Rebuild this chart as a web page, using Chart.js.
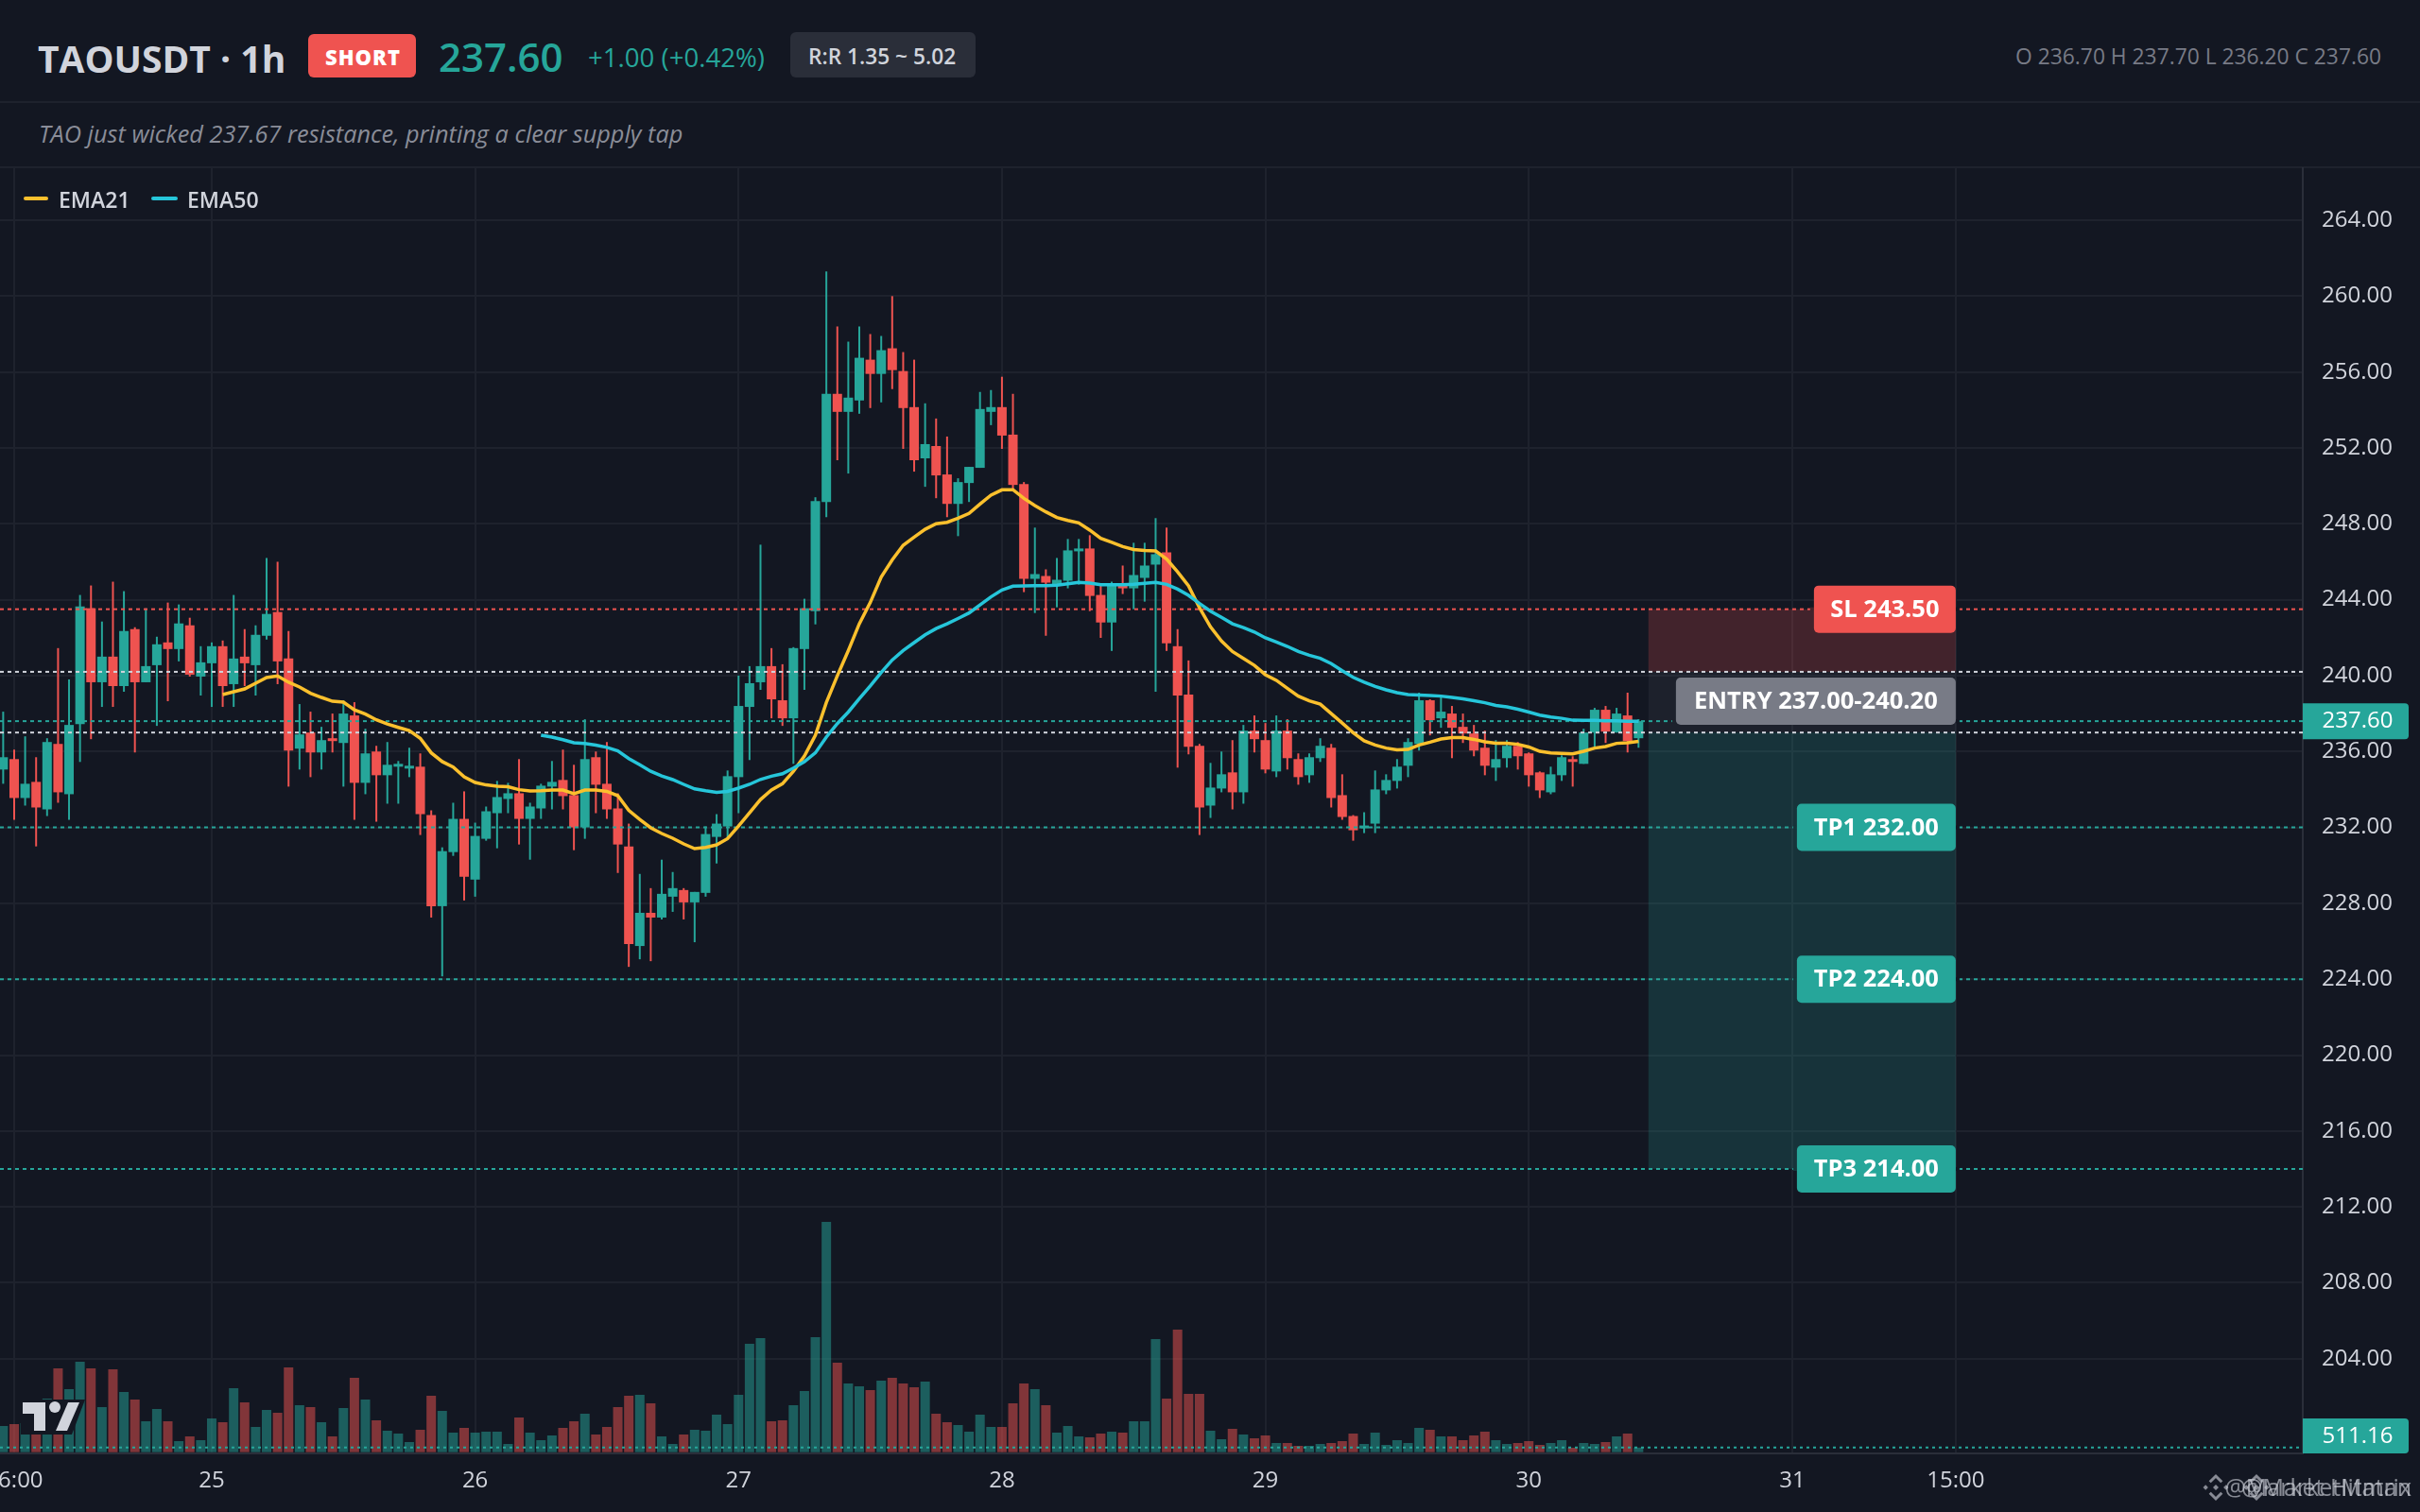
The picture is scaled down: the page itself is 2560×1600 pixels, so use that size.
<!DOCTYPE html>
<html>
<head>
<meta charset="utf-8">
<title>TAOUSDT 1h</title>
<script src="https://cdn.jsdelivr.net/npm/chart.js@4"></script>
<style>
html, body { margin: 0; padding: 0; background: #131722; width: 2560px; height: 1600px; overflow: hidden; }
body { position: relative; font-family: "Open Sans", sans-serif; color: #d1d4dc; }
.t { position: absolute; white-space: nowrap; line-height: 1; transform: translateY(-50%); }
.bar { position: absolute; left: 0; width: 2560px; height: 2px; background: #1e222d; }
.pill { position: absolute; border-radius: 6px; }
.sw { position: absolute; height: 4px; border-radius: 2px; }
canvas { position: absolute; left: 0; top: 177px; }
</style>
</head>
<body>
<div class="t" style="left:40px;top:61px;font-size:39px;font-weight:700">TAOUSDT · 1h</div>
<div class="pill" style="left:326px;top:36px;width:114px;height:46px;background:#ef5350"></div>
<div class="t" style="left:344px;top:60px;font-size:22px;font-weight:800;color:#fff;letter-spacing:1px">SHORT</div>
<div class="t" style="left:464px;top:60px;font-size:42px;font-weight:600;color:#26a69a">237.60</div>
<div class="t" style="left:622px;top:61px;font-size:27.6px;font-weight:500;color:#26a69a">+1.00 (+0.42%)</div>
<div class="pill" style="left:836px;top:34px;width:196px;height:48px;background:#2a2e39"></div>
<div class="t" style="left:855px;top:60px;font-size:22.7px;font-weight:600">R:R 1.35 ~ 5.02</div>
<div class="t" style="right:41px;top:60px;font-size:22.8px;color:#787b86">O 236.70 H 237.70 L 236.20 C 237.60</div>
<div class="bar" style="top:107px"></div>
<div class="t" style="left:41px;top:142px;font-size:25.3px;font-style:italic;color:#8a8d98">TAO just wicked 237.67 resistance, printing a clear supply tap</div>
<div class="bar" style="top:176px"></div>
<canvas id="chart" width="2560" height="1423"></canvas>
<div class="sw" style="left:25px;top:208px;width:26px;background:#fbc02d"></div>
<div class="t" style="left:62px;top:211px;font-size:23px;font-weight:600">EMA21</div>
<div class="sw" style="left:160px;top:208px;width:28px;background:#26c6da"></div>
<div class="t" style="left:198px;top:211px;font-size:23px;font-weight:600">EMA50</div>

<script>
// candles, one per hour. hour 0 = midnight of the 25th
const firstHour = -19;
const opens = [
  235.05,235.6,233.55,234.4,232.95,236.4,233.75,237.45,243.55,239.65,
  241.0,239.45,242.45,239.65,240.55,241.75,241.4,242.65,239.95,240.65,
  241.55,239.55,241.0,240.55,242.1,243.35,240.9,236.15,237.0,235.95,
  236.7,236.45,237.9,234.35,236.0,234.75,235.2,235.1,235.2,232.65,
  227.85,230.7,232.45,229.25,231.4,232.75,233.5,233.8,232.45,233.0,
  234.15,234.5,233.7,232.0,235.7,234.3,233.0,231.0,225.75,227.5,
  227.25,228.35,228.7,228.05,228.55,231.5,232.05,234.65,238.35,239.65,
  240.5,238.7,237.75,241.4,243.4,249.15,254.85,253.9,254.5,256.65,
  255.9,257.25,256.05,254.15,251.45,252.1,250.6,249.05,250.15,250.95,
  253.9,254.15,252.7,250.1,245.1,245.25,244.75,245.0,246.55,246.7,
  244.25,242.8,244.75,244.6,245.15,245.85,246.5,241.55,239.0,236.3,
  233.15,234.05,234.9,233.85,237.1,236.6,234.95,237.1,235.6,234.75,
  235.65,236.2,233.7,232.6,231.95,232.2,233.95,234.45,235.25,236.4,
  238.7,237.75,238.0,237.3,236.95,236.2,235.15,235.65,236.3,235.9,
  234.9,233.85,234.75,235.6,235.35,237.0,238.2,237.0,237.9,236.7
];
const highs = [
  238.1,236.1,236.8,235.7,236.7,241.45,239.8,244.25,244.75,242.85,
  244.95,244.45,242.55,243.55,242.05,243.85,243.75,243.05,241.55,241.75,
  241.85,244.25,242.45,242.65,246.2,246.0,242.35,238.5,238.1,237.3,
  238.0,238.7,238.6,237.2,236.3,236.5,235.5,236.2,235.9,232.9,
  230.95,233.3,233.9,232.25,233.1,234.45,234.35,235.6,233.3,234.3,
  235.5,236.1,235.3,237.7,236.0,236.5,233.8,232.2,229.55,228.8,
  230.3,229.65,228.8,228.6,232.05,232.7,235.0,240.0,240.5,246.9,
  241.45,240.6,241.5,244.05,249.4,261.3,258.4,257.6,258.4,258.0,
  257.9,260.0,257.05,256.65,254.35,253.55,252.6,250.4,251.0,254.95,
  255.05,255.75,254.85,250.2,247.8,245.6,246.2,247.2,247.2,247.4,
  244.75,244.95,245.8,247.0,247.0,248.3,247.8,242.45,240.8,236.4,
  235.4,236.0,236.6,237.4,237.9,237.5,237.9,237.7,235.9,235.9,
  236.7,236.4,234.8,232.65,232.8,235.0,234.8,235.6,236.7,239.1,
  238.75,238.95,238.4,238.0,237.4,237.1,236.6,236.6,236.5,235.95,
  234.95,235.2,235.8,235.75,237.2,238.3,238.4,238.3,239.1,237.7
];
const lows = [
  234.3,232.4,233.15,231.0,232.6,233.3,232.4,235.45,236.65,238.35,
  238.35,239.15,235.95,239.65,237.35,238.65,240.75,239.95,238.95,238.35,
  238.35,238.35,239.45,238.95,241.9,239.55,234.15,235.05,234.65,235.05,
  235.95,234.15,232.4,233.75,232.3,233.25,233.25,234.65,231.6,227.25,
  224.15,230.5,228.15,228.35,231.3,230.9,232.75,231.1,230.3,232.45,
  232.95,232.95,230.8,231.4,232.75,232.45,229.6,224.65,225.05,224.95,
  227.15,227.55,227.15,225.95,228.35,230.1,231.45,232.75,235.55,239.25,
  237.75,237.35,235.35,239.25,242.7,248.35,251.35,250.65,253.8,254.1,
  254.4,255.1,251.95,250.75,249.95,249.35,248.35,247.35,249.15,250.95,
  253.2,251.95,249.8,244.4,243.3,242.1,243.6,244.6,244.8,243.4,
  241.99,241.3,244.3,243.5,243.9,239.15,241.3,235.15,235.85,231.6,
  232.5,233.85,232.95,233.25,235.95,234.85,234.65,235.05,234.25,234.35,
  235.45,233.05,232.4,231.3,231.7,231.7,233.75,234.05,234.65,236.05,
  236.85,237.25,235.65,236.45,235.75,234.75,234.45,235.15,235.05,234.15,
  233.55,233.75,234.45,234.15,235.35,236.25,236.45,237.0,235.95,236.2
];
const closes = [
  235.7,233.55,234.3,233.05,236.5,233.85,237.4,243.65,239.65,241.0,
  239.45,242.35,239.65,240.5,241.65,241.4,242.75,240.05,240.7,241.55,
  239.45,240.9,240.65,242.15,243.25,240.75,236.05,236.9,235.95,236.6,
  236.55,238.0,234.35,235.9,234.75,235.3,235.35,235.25,232.7,227.85,
  230.75,232.45,229.4,231.55,232.85,233.6,233.8,232.45,233.1,234.2,
  234.4,233.65,232.0,235.6,234.25,232.95,231.1,225.85,227.5,227.25,
  228.5,228.8,228.05,228.6,231.65,232.2,234.7,238.4,239.6,240.5,
  238.75,237.75,241.45,243.55,249.2,254.85,253.9,254.65,256.75,255.9,
  257.15,256.1,254.1,251.35,252.2,250.55,249.05,250.2,251.0,254.05,
  254.15,252.65,250.05,245.1,245.35,244.9,245.05,246.6,246.7,244.2,
  242.8,244.75,244.6,245.3,245.8,246.4,241.7,238.95,236.25,233.05,
  234.1,234.8,233.85,237.1,236.65,235.05,237.1,235.65,234.65,235.7,
  236.3,233.55,232.55,231.85,232.1,234.0,234.5,235.2,236.5,238.7,
  237.65,238.1,237.25,236.95,236.05,235.25,235.6,236.3,235.75,234.75,
  233.95,234.8,235.7,235.45,237.0,238.2,237.05,238.0,236.55,237.6
];
const volumes = [
  2905,3115,3220,1960,5950,9310,7000,10045,9310,5005,
  9205,6685,5845,3430,4795,3430,1225,1750,1330,3745,
  3325,7105,5530,2800,4690,4375,9415,5215,5005,3325,
  1750,4900,8260,5845,3535,2380,2065,1120,2485,6265,
  4585,2170,2695,2170,2275,2275,910,3850,2170,1330,
  1855,2695,3430,4270,1960,2800,5005,6265,6370,5425,
  1750,910,1960,2485,2380,4165,3115,6370,12040,12670,
  3430,3535,5215,6790,12775,25585,9940,7630,7315,6895,
  7945,8260,7630,7210,7840,4270,3325,3010,2275,4165,
  2800,2800,5425,7630,7000,5215,2170,2905,1750,1645,
  2065,2275,2170,3430,3430,12565,5950,13615,6475,6475,
  2380,1435,2590,1960,1540,1855,1015,1015,700,700,
  910,1015,1225,2065,910,2170,805,1330,1015,2695,
  2485,1750,1750,1330,1855,2275,1330,910,1015,1225,
  805,1015,1330,490,1015,910,1120,1750,2065,511.16
];
const ema21Start = 1;
const ema21 = [
  239.0,239.15,239.3,239.6,239.9,239.98,239.65,239.4,239.07,238.85,
  238.65,238.6,238.2,237.97,237.67,237.45,237.27,237.1,236.7,235.93,
  235.47,235.18,234.67,234.37,234.24,234.17,234.14,233.99,233.92,233.93,
  233.97,233.97,233.78,233.97,233.97,233.9,233.67,232.9,232.42,231.98,
  231.68,231.43,231.13,230.88,230.95,231.08,231.41,232.07,232.77,233.47,
  233.97,234.3,234.96,235.76,236.86,238.58,239.99,241.32,242.73,243.85,
  245.2,246.1,246.87,247.3,247.71,248.0,248.08,248.3,248.55,249.04,
  249.51,249.79,249.8,249.34,248.96,248.63,248.33,248.18,248.05,247.67,
  247.23,247.02,246.8,246.65,246.59,246.57,246.14,245.47,244.73,243.57,
  242.57,241.82,241.27,240.91,240.54,240.05,239.75,239.33,238.92,238.67,
  238.5,238.0,237.5,236.99,236.56,236.34,236.18,236.09,236.11,236.34,
  236.49,236.66,236.73,236.73,236.64,236.51,236.44,236.44,236.38,236.24,
  236.01,235.93,235.9,235.88,236.01,236.18,236.26,236.43,236.46,236.54
];
const ema50Start = 30;
const ema50 = [
  236.86,236.76,236.62,236.46,236.42,236.34,236.22,236.03,235.63,235.3,
  234.96,234.71,234.52,234.27,234.03,233.93,233.85,233.9,234.07,234.27,
  234.53,234.7,234.83,235.13,235.46,235.93,236.76,237.47,238.08,238.78,
  239.45,240.16,240.82,241.32,241.74,242.15,242.48,242.73,243.01,243.3,
  243.73,244.15,244.51,244.71,244.73,244.74,244.74,244.76,244.84,244.91,
  244.88,244.79,244.79,244.79,244.81,244.86,244.91,244.81,244.56,244.23,
  243.8,243.4,243.07,242.73,242.53,242.3,241.99,241.77,241.54,241.27,
  241.07,240.91,240.63,240.26,239.91,239.65,239.43,239.25,239.1,239.0,
  238.98,238.95,238.92,238.85,238.78,238.68,238.57,238.43,238.35,238.23,
  238.08,237.92,237.82,237.75,237.65,237.64,237.64,237.62,237.62,237.6,237.6
];
const priceTicks = [204,208,212,216,220,224,228,232,236,240,244,248,252,256,260,264];
const timeTicks = [-18,0,24,48,72,96,120,144,158.9];
const timeTickLabels = ['06:00','25','26','27','28','29','30','31','15:00'];

const levelPrices = [243.5, 240.2, 237.6, 237, 232, 224, 214];
const levelColors = ['#ef5350','#d1d4dc','#26a69a','#d1d4dc','#26a69a','#26a69a','#26a69a'];
const lastPrice = 237.6, lastVolume = 511.16;

const zoneFrom = 130.9, zoneTo = 158.9;
const zoneTops = [243.5, 240.2, 237];
const zoneBottoms = [240.2, 237, 214];
const zoneColors = ['rgba(239,83,80,0.22)','rgba(120,123,134,0.1)','rgba(38,166,154,0.2)'];

const badgeTexts = ['SL 243.50','ENTRY 237.00-240.20','TP1 232.00','TP2 224.00','TP3 214.00'];
const badgePrices = [243.5, 238.65, 232, 224, 214];
const badgeLinePrices = [243.5, 237.6, 232, 224, 214]; // the level line each label interrupts
const badgeWidths = [150, 296, 168, 168, 168];
const badgeColors = ['#ef5350','#787b86','#26a69a','#26a69a','#26a69a'];

const GREEN = '#26a69a', RED = '#ef5350';
const hours = opens.map((o, i) => firstHour + i);
const isUp = closes.map((c, i) => c >= opens[i]);
const FONT = '"Open Sans", sans-serif';

const levelSets = levelPrices.map((p, i) => ({
  type: 'line',
  data: [{x: -19.29, y: p}, {x: 190.52, y: p}],
  borderColor: levelColors[i], borderWidth: 2, borderDash: [4, 4],
  pointRadius: 0, order: 3
}));

function roundRect(ctx, x, y, w, h, r) {
  ctx.beginPath();
  ctx.roundRect(x, y, w, h, r);
}

function binanceMark(ctx, cx, cy, s) {
  const dia = (x, y, r) => {
    ctx.beginPath();
    ctx.moveTo(x, y - r); ctx.lineTo(x + r, y); ctx.lineTo(x, y + r); ctx.lineTo(x - r, y);
    ctx.closePath(); ctx.fill();
  };
  dia(cx, cy, s * 0.2);
  dia(cx - s * 0.72, cy, s * 0.18);
  dia(cx + s * 0.72, cy, s * 0.18);
  ctx.lineWidth = s * 0.2;
  ctx.beginPath();
  ctx.moveTo(cx - s * 0.42, cy - s * 0.38); ctx.lineTo(cx, cy - s * 0.8); ctx.lineTo(cx + s * 0.42, cy - s * 0.38);
  ctx.moveTo(cx - s * 0.42, cy + s * 0.38); ctx.lineTo(cx, cy + s * 0.8); ctx.lineTo(cx + s * 0.42, cy + s * 0.38);
  ctx.stroke();
}

const overlays = {
  id: 'overlays',
  beforeDatasetsDraw(chart) {
    const {ctx, scales: {x, y}} = chart;
    ctx.save();
    zoneColors.forEach((c, i) => {
      ctx.fillStyle = c;
      const top = y.getPixelForValue(zoneTops[i]);
      ctx.fillRect(x.getPixelForValue(zoneFrom), top,
        x.getPixelForValue(zoneTo) - x.getPixelForValue(zoneFrom),
        y.getPixelForValue(zoneBottoms[i]) - top);
    });
    ctx.restore();
  },
  afterDraw(chart) {
    const {ctx, chartArea: area, scales: {x, y}} = chart;
    const right = x.getPixelForValue(zoneTo);
    ctx.save();

    // trade labels
    ctx.textAlign = 'center';
    ctx.textBaseline = 'middle';
    ctx.font = '700 25.5px ' + FONT;
    badgeTexts.forEach((t, i) => {
      const cy = y.getPixelForValue(badgePrices[i]);
      const lineY = y.getPixelForValue(badgeLinePrices[i]);
      const left = right - badgeWidths[i];
      // small break in the dashed line either side of the label
      ctx.fillStyle = '#131722';
      ctx.fillRect(right, lineY - 2, 4, 4);
      ctx.fillStyle = i === 0 ? 'rgb(64,35,42)' : i === 1 ? 'rgb(30,34,44)' : 'rgb(23,52,58)';
      ctx.fillRect(left - 4, lineY - 2, 4, 4);
      roundRect(ctx, left, cy - 25, badgeWidths[i], 50, 5);
      ctx.fillStyle = badgeColors[i]; ctx.fill();
      ctx.fillStyle = '#fff';
      ctx.fillText(t, left + badgeWidths[i] / 2, cy + 1);
    });

    // axis tags
    ctx.font = '500 24px ' + FONT;
    const tagY = y.getPixelForValue(lastPrice);
    ctx.fillStyle = GREEN;
    roundRect(ctx, area.right, tagY - 19, 112, 38, [0, 4, 4, 0]); ctx.fill();
    roundRect(ctx, area.right, area.bottom - 37, 112, 37, [0, 4, 4, 0]); ctx.fill();
    ctx.fillStyle = '#fff';
    ctx.fillText(lastPrice.toFixed(2), area.right + 58, tagY);
    ctx.fillText(lastVolume.toFixed(2), area.right + 58, area.bottom - 18);

    // tradingview mark
    ctx.fillStyle = '#131722';
    ctx.beginPath();
    ctx.moveTo(22, area.top + 1304); ctx.lineTo(90, area.top + 1304);
    ctx.lineTo(76, area.top + 1341); ctx.lineTo(22, area.top + 1341);
    ctx.closePath(); ctx.fill();
    ctx.fillStyle = '#d1d4dc';
    ctx.fillRect(24, area.top + 1307, 24, 12);
    ctx.fillRect(36, area.top + 1319, 12, 18);
    ctx.beginPath();
    ctx.arc(58, area.top + 1312, 6, 0, Math.PI * 2); ctx.fill();
    ctx.beginPath();
    ctx.moveTo(72, area.top + 1307); ctx.lineTo(84, area.top + 1307);
    ctx.lineTo(71, area.top + 1337); ctx.lineTo(59, area.top + 1337);
    ctx.closePath(); ctx.fill();

    // two watermarks lying over each other
    ctx.textAlign = 'right';
    ctx.font = '25px ' + FONT;
    ctx.fillStyle = 'rgba(209,212,220,0.62)';
    ctx.strokeStyle = 'rgba(209,212,220,0.62)';
    ctx.fillText('@Market Hitman', 2551, area.bottom + 38);
    ctx.fillText('@MarketMatrix', 2551, area.bottom + 38);
    binanceMark(ctx, 2344, area.bottom + 36, 15);
    binanceMark(ctx, 2387, area.bottom + 36, 15);
    ctx.restore();
  }
};

new Chart(document.getElementById('chart'), {
  type: 'bar',
  plugins: [overlays],
  data: {
    datasets: [
      {
        type: 'line', data: ema50.map((v, i) => ({x: ema50Start + i, y: v})),
        borderColor: '#26c6da', borderWidth: 3.5, pointRadius: 0, order: 1
      },
      {
        type: 'line', data: ema21.map((v, i) => ({x: ema21Start + i, y: v})),
        borderColor: '#fbc02d', borderWidth: 3.5, pointRadius: 0, order: 2
      },
      ...levelSets,
      {
        type: 'line', yAxisID: 'vol',
        data: [{x: -19.29, y: lastVolume}, {x: 190.52, y: lastVolume}],
        borderColor: GREEN, borderWidth: 2, borderDash: [3, 4], pointRadius: 0, order: 3
      },
      {
        data: hours.map((h, i) => ({x: h, y: [opens[i], closes[i]]})),
        backgroundColor: isUp.map(u => u ? GREEN : RED),
        barThickness: 10, grouped: false, inflateAmount: 0, order: 4
      },
      {
        data: hours.map((h, i) => ({x: h, y: [lows[i], highs[i]]})),
        backgroundColor: isUp.map(u => u ? GREEN : RED),
        barThickness: 2, grouped: false, inflateAmount: 0, order: 5
      },
      {
        yAxisID: 'vol',
        data: hours.map((h, i) => ({x: h, y: volumes[i]})),
        backgroundColor: isUp.map(u => u ? 'rgba(38,166,154,0.5)' : 'rgba(239,83,80,0.5)'),
        barThickness: 10, grouped: false, inflateAmount: 0, order: 6
      }
    ]
  },
  options: {
    responsive: false,
    animation: false,
    devicePixelRatio: 1,
    layout: {padding: 0},
    plugins: {legend: {display: false}, tooltip: {enabled: false}},
    scales: {
      x: {
        type: 'linear', min: -19.29, max: 190.52,
        offset: false, // bar charts turn this on and it would pad the hour axis
        afterBuildTicks(s) { s.ticks = timeTicks.map(v => ({value: v})); },
        afterFit(s) { s.height = 62; s.paddingLeft = 0; s.paddingRight = 0; },
        grid: {color: '#1e222d', lineWidth: 2, drawTicks: false, offset: false},
        border: {color: '#2a2e39', width: 2},
        ticks: {
          autoSkip: false, maxRotation: 0, padding: 15, color: '#d1d4dc',
          font: {family: FONT, size: 24},
          callback: (v) => timeTickLabels[timeTicks.indexOf(v)]
        }
      },
      y: {
        position: 'right', min: 199.01, max: 266.79,
        afterBuildTicks(s) { s.ticks = priceTicks.map(v => ({value: v})); },
        afterFit(s) { s.width = 124; s.paddingTop = 0; s.paddingBottom = 0; },
        grid: {color: '#1e222d', lineWidth: 2, drawTicks: false},
        border: {color: '#2a2e39', width: 2},
        ticks: {
          padding: 20, color: '#d1d4dc', autoSkip: false,
          font: {family: FONT, size: 24},
          callback: (v) => v.toFixed(2)
        }
      },
      // y options get merged into this axis, so they have to be undone here
      vol: {
        display: false, position: 'left', min: -140, max: 142770,
        afterBuildTicks() {},
        afterFit(s) { s.width = 0; },
        grid: {display: false},
        ticks: {display: false}
      }
    }
  }
});
</script>
</body>
</html>
